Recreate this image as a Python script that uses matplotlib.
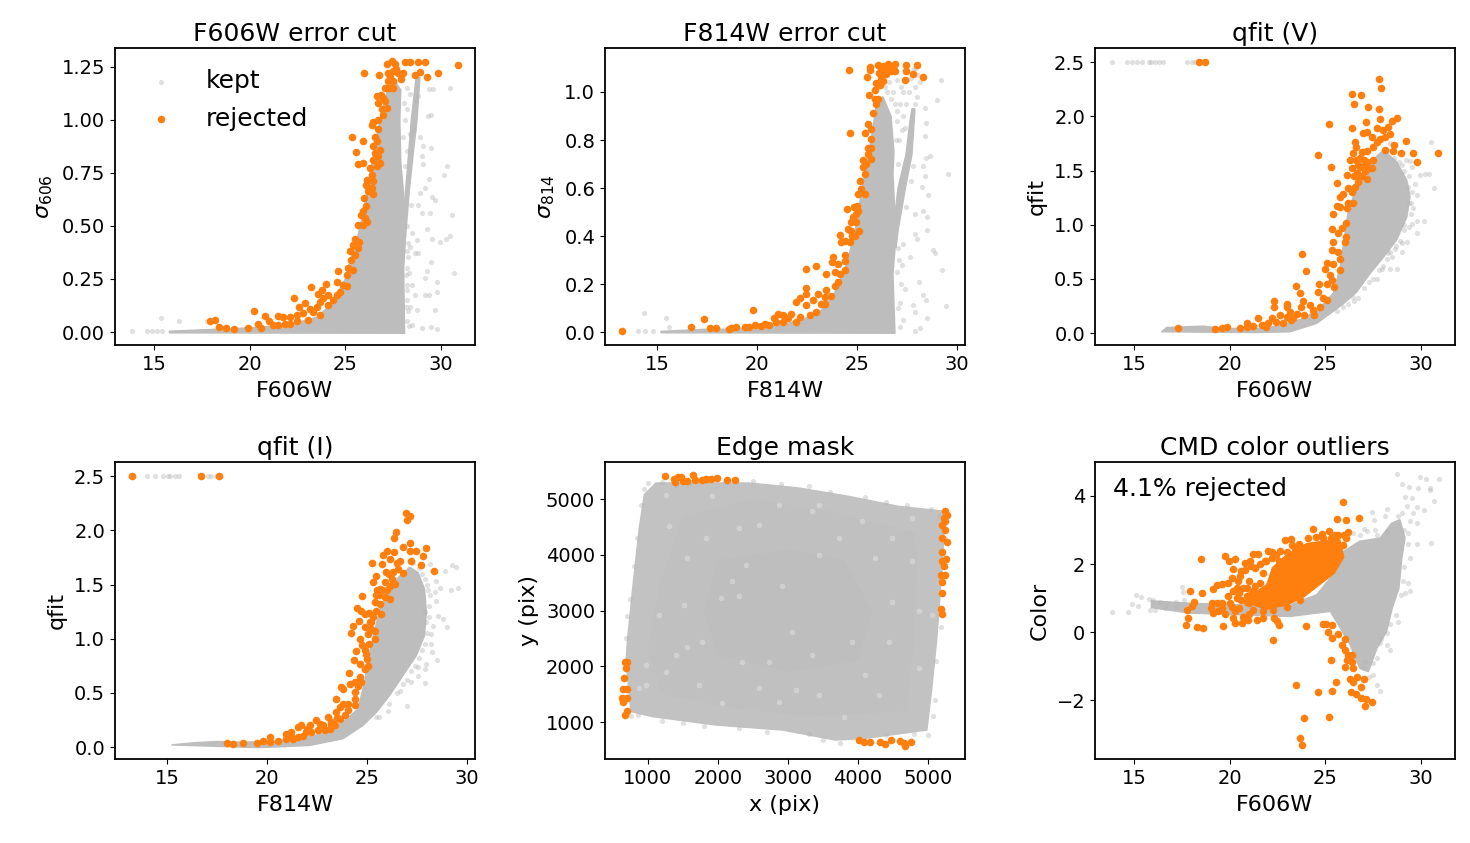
import numpy as np
from matplotlib import pyplot as plt

# dense part of each kept population, as outlines in data units
sig606_core = [(15.8,.004),(18,.012),(20,.02),(21.5,.03),(22.5,.045),(23.5,.07),(24,.11),(24.5,.17),(25,.25),(25.3,.35),
               (25.6,.43),(26,.59),(26.3,.75),(26.6,.9),(26.9,1.03),(27.2,1.14),(27.6,1.18),(27.9,1.14),(27.85,1.0),(27.9,.8),
               (28.05,.65),(28.15,.45),(28.05,.3),(28.1,-.006),(15.8,-.004)]
sig606_strip = [(27.95,.45),(28.2,.72),(28.45,1.0),(28.7,1.2),(28.9,1.2),(28.75,1.0),(28.55,.84),(28.35,.67),(28.15,.45)]
sig814_core = [(15.2,.003),(17.5,.012),(19,.012),(20.5,.02),(21.5,.035),(22.5,.06),(23.2,.09),(23.8,.15),(24.3,.24),(24.6,.32),
               (24.9,.42),(25.1,.52),(25.3,.62),(25.6,.75),(25.8,.85),(26,.97),(26.3,.98),(26.7,.9),(26.85,.75),(26.8,.66),
               (26.95,.4),(26.8,.24),(26.9,-.005),(15.2,-.003)]
sig814_strip = [(26.8,.42),(27.05,.6),(27.45,.74),(27.65,.88),(27.75,.93),(27.9,.93),(27.75,.74),(27.4,.59),(27.05,.42),(26.95,.35)]
qfitv_core = [(16.43,.012),(21.4,.005),(23.15,.012),(24.55,.09),(25.25,.18),(25.94,.27),(26.64,.38),(27.34,.55),(28.04,.7),
              (28.73,.86),(29.26,1.07),(29.43,1.26),(29.26,1.41),(28.73,1.58),(28.04,1.69),(27.2,1.55),(26.7,1.38),(26.2,1.13),
              (26.0,.89),(25.77,.61),(25.42,.37),(24.9,.27),(24.02,.15),(23.15,.09),(21.75,.043),(19.66,.043),(18.6,.065),
              (17.57,.058),(16.7,.052)]
qfiti_core = [(15.22,.02),(19.63,-.005),(22.13,.015),(23.8,.077),(24.8,.2),(25.47,.32),(26.13,.476),(26.8,.66),(27.47,.845),
              (27.88,1.03),(27.97,1.244),(27.88,1.459),(27.55,1.612),(27.13,1.66),(26.2,1.505),(25.7,1.305),(25.4,1.09),
              (25.1,.845),(24.88,.6),(24.55,.353),(23.8,.23),(23,.138),(21.3,.06),(18.8,.046),(17.47,.052),(16.3,.04)]
edge_outer = [(1114,5289),(948,5079),(876,4480),(782,3402),(710,2503),(686,2084),(758,1186),(1066,1096),(1969,946),(2919,856),
              (3679,676),(4106,706),(4985,856),(5056,1605),(5128,2503),(5199,3702),(5247,4780),(4581,4870),(3869,5049),
              (3156,5199),(2444,5289),(1731,5289)]
edge_inner = [(1500,4700),(1150,3400),(1000,2300),(1200,1500),(2200,1250),(3300,1100),(4700,1200),(4800,2500),(4850,3800),
              (4800,4400),(3700,4750),(2500,5000)]
edge_center = [(2000,3900),(1800,3000),(2000,2200),(3000,1900),(4000,2100),(4200,3000),(3800,3900),(3000,4100)]
cmd_core = [(15.9,.92),(17.9,.85),(20.5,.8),(23.15,.8),(24.55,1.1),(25.68,1.88),(25.94,2.37),(26.8,2.67),(27.86,2.76),(28.47,3.2),
            (28.9,3.3),(29.17,2.76),(29,2.18),(28.85,1.29),(28.5,.71),(28.2,.02),(27.7,-.47),(27.25,-1.16),(26.8,-1.06),
            (26.29,-.37),(25.68,.22),(25.25,.61),(23.15,.46),(20.5,.51),(17.9,.56),(15.9,.72)]
cmd_rej_core = [(20.9,.85),(21.2,1.15),(21.9,1.4),(22.2,1.9),(22.98,2.3),(24.02,2.62),(25.77,2.76),(26.0,2.2),(25.5,1.72),
                (24.72,1.38),(23.85,1.0),(22.98,.78),(21.9,.65)]

# isolated kept stars
sig606_kept = [(13.85,.005),(14.63,.005),(14.9,.005),(15.15,.005),(15.4,.005),(15.38,.064),(16.3,.05),(17.75,.05),(30.48,1.15),
               (29.4,1.145),(29.6,1.145),(30.3,.78),(30.18,.74),(29.35,.72),(29.47,.866),(29.3,1.015),(29.47,1.02),(29,.827),
               (29.08,.79),(29.52,.635),(29.7,.62),(29.17,.68),(28.9,.654),(28.8,.6),(29.43,.56),(29.26,.484),(30.57,.552),
               (30.45,.45),(30.27,.44),(29.96,.426),(29.52,.437),(28.82,.37),(30.7,.28),(29.5,.33),(29.26,.285),(29.17,.253),
               (29.8,.237),(29.78,.19),(29.4,.175),(29.17,.175),(29.7,.104),(29.5,.025),(29.78,.013),(29,.017),(28.65,.175),
               (28.38,.12),(28.73,.104),(28.47,.033),(28.2,.22),(28.47,.22),(28.3,.355),(28.65,.37),(28.47,.465),(28.73,.434),
               (29,.56),(28.38,.93),(28.9,.92),(29.08,.874),(28.7,1.087),(28.82,1.11),(28.3,.1),(28.2,.3),(28.35,.03),(28.25,.5),
               (28.25,.15),(28.3,.42),(28.15,.27),(28.45,.6),(28.2,.05),(28.25,.2),(28.35,.28),(28.2,.38),(28.4,.4),(28.15,.12),
               (27.95,1.2),(28.2,1.15),(28.4,1.12),(28.1,1.0),(28.2,.85),(28.6,.95),(28.05,1.08),(28.25,1.05),(28.0,.92),(28.1,.78)]
sig814_kept = [(14.05,.004),(14.4,.004),(14.8,.004),(14.35,.08),(15.43,.057),(15.58,.02),(29.2,1.05),(29,.965),(29.55,.658),(29.25,.26),
               (29.43,.11),(28.55,.57),(28.8,.343),(28.88,.33),(28.5,.478),(28.5,.426),(28.3,.506),(27.88,.409),(28,.386),(28.1,.209),
               (28.3,.156),(28.47,.133),(28.5,.057),(28.13,.015),(27.88,.004),(27.8,.112),(27.88,.084),(27.38,.18),(27.63,.312),(27.3,.368),
               (28.38,.935),(28.47,.87),(28.38,.817),(28.47,.727),(28.63,.734),(28.3,.693),(28.38,.651),(28.27,.605),(27.72,.63),(27.8,.693),
               (27.47,.52),(27.88,.49),(27.1,.3),(27.2,.2),(27.05,.1),(27.3,.05),(27.15,.02),(27.0,.25),(27.25,.28),(27.05,.35),(27.15,.12),
               (26.8,1.0),(27.0,1.05),(27.3,1.0),(27.5,1.05),(26.5,1.0),(26.6,1.04),(27.0,.92),(27.25,.84),(27.1,.8),(27.3,.9),(26.4,1.02),
               (27.6,1.0),(27.7,1.06),(27.9,1.02),(27.8,1.09),(28.05,1.07),(28.15,1.04),(27.95,1.1),(27.45,.95),(27.15,.95),(26.95,.8),
               (26.9,.95),(26.7,.97),(27.05,.7),(27.0,.88),(27.2,1.02),(27.4,.85),(28.0,.98),(27.9,.95)]
qfitv_kept = [(13.85,2.5),(14.63,2.5),(14.9,2.5),(15.15,2.5),(15.4,2.5),(15.75,2.5),(15.9,2.5),(16.1,2.5),(16.3,2.5),(16.5,2.5),
              (17.75,2.5),(18.0,2.5),(18.2,2.5),(30.53,1.76),(30.4,1.47),(30.2,1.47),(29.96,1.46),(30.7,1.34),(30.18,1.03),
              (29.8,1.035),(29.8,.92),(29.52,1.01),(29.26,.84),(29,.835),(29,.745),(28.73,.59),(28.38,.59),(27.95,.59),(27.69,.5),
              (28.3,.735),(29.52,1.53),(29.7,1.58),(29.7,1.38),(29.78,1.27),(29.43,1.59),(29.2,1.6),(28.38,1.75),(28.47,.7),
              (28.65,.78),(26.73,.32),(26.47,.335),(25.94,.243),(29.1,.95),(29.4,1.2),(29.6,1.15),(29.3,1.35),(26.5,.3),(27,.42),
              (27.5,.5),(28,.62),(28.4,.75),(28.9,.85),(29.1,1.0),(29.5,1.1),(29.55,1.3),(29.4,1.45),(29,1.55),(28.6,1.62),(28.3,1.68),
              (27.3,.47),(27.8,.58),(28.2,.68),(28.7,.8),(29.35,.98),(29.5,1.2),(29.1,1.5),(28.85,1.58),(26.2,.27),(25.6,.2)]
qfiti_kept = [(14.02,2.5),(14.4,2.5),(14.8,2.5),(15.05,2.5),(15.17,2.5),(15.42,2.5),(15.6,2.5),(17.05,2.5),(17.22,2.5),(17.43,2.5),
              (29.27,1.68),(29.47,1.665),(28.92,1.625),(28.17,1.69),(28.43,1.535),(28.67,1.468),(29.55,1.468),(29.22,1.45),
              (28.38,1.428),(28.47,1.35),(28.55,1.213),(28.8,1.182),(29,1.112),(28.3,1.12),(28.22,1.044),(28.22,.952),(28.27,.875),
              (28.5,.808),(27.97,.768),(27.55,.743),(27.88,.722),(27.55,.66),(27.22,.6),(27.88,.593),(27.02,.375),(26.05,.329),
              (25.47,.276),(26.63,.522),(27.9,.95),(28.1,1.3),(28.0,1.5),(25.6,.28),(26.1,.4),(26.5,.5),(27,.62),(27.4,.75),(27.75,.9),
              (28,1.05),(28.1,1.2),(28.15,1.4),(27.9,1.55),(27.6,1.65),(27.3,1.7),(27.9,1.25),(26.8,.58),(27.2,.7),(27.6,.82),
              (27.95,1.15),(28.05,1.45),(27.75,1.6)]
edge_kept = [(950,5180),(1000,5280),(1200,5310),(900,4900),(840,4300),(800,3800),(740,3200),(700,2900),(690,2500),(760,1100),(860,1130),
             (1200,1020),(1500,980),(1800,930),(2300,890),(2700,820),(3300,780),(3500,680),(3750,620),(4000,660),(4400,770),(4800,790),
             (5000,760),(5070,1100),(5100,1400),(5120,2100),(5180,2700),(5190,3300),(5250,4300),(5170,4700),(5050,4820),(4700,4900),
             (4400,4950),(4100,5040),(3600,5120),(3300,5230),(2900,5270),(2500,5330),(2100,5310),(1600,5300),(1400,5260)]
cmd_kept = [(13.85,.59),(14.69,.59),(14.9,.82),(15.12,1.1),(15.38,1.02),(15.2,.77),(15.8,.97),(16,.95),(16.34,.9),(15.82,.66),
            (16.08,.66),(16.7,.85),(17.2,.9),(17.48,1.34),(17.53,1.18),(28.77,4.63),(29,4.35),(29.96,4.56),(30.27,4.48),(30.92,4.48),
            (29.4,4.26),(29.82,4.24),(30.45,4.24),(30.48,4.16),(30.7,3.84),(29.14,3.97),(29.55,3.94),(29.26,3.7),(29.78,3.68),
            (30.18,3.58),(29.6,3.5),(28.2,3.6),(27.44,3.53),(27.53,3.3),(27,3.04),(28.12,3.4),(29.43,3.25),(29.8,3.2),(30.53,2.62),
            (29.78,2.59),(29.43,2.18),(29.34,1.44),(29.43,1.2),(29.17,1.15),(28.82,.31),(28.2,-.03),(27.86,-.32),(28.2,-.37),
            (28.38,-.52),(27.69,-.76),(27.51,-1.27),(27.69,-1.55),(27.86,-1.73),(27.16,2.96),(27.69,2.86),(26.47,2.91),(26.8,2.86),
            (26.99,-1.06),(27.08,-.86),(16.6,.7),(17.2,.75),(17.6,.95),(29.3,2.6),(29.1,3.0),(29.0,3.5),(29.1,1.9),(29.05,1.5),(28.95,1.1),
            (28.7,.5),(28.4,.25),(27.9,-.2),(27.5,-.9),(27.3,-1.3),(27.05,-1.4),(28.2,2.95),(27.6,3.0),(28.8,3.4),(29.3,2.9),(26.2,2.75)]

# thin spots in the edge panel's star field
edge_gaps = [(1257,5079),(1921,5049),(2872,4900),(2587,4540),(1565,3941),(1304,4510),(3347,4780),(4487,4300),(4772,4660),(3727,4300),(2207,3522),
             (2919,3432),(2397,3821),(4487,3162),(4867,2983),(2040,3222),(1518,3102),(1565,2354),(972,2024),(1257,1905),(3109,1575),(3798,1096),
             (4107,1845),(4297,1485),(2064,1335),(2587,1605),(3442,1485),(2729,2084),(2349,2084),(1732,1665),(972,1665),(1162,2923),(4249,3941),
             (5057,2923),(4867,1964),(3917,2444),(4439,2444),(3347,2204),(3062,2623),(2302,3252),(877,1605),(3442,4000),(1827,4300),(2302,4480),
             (4059,4600),(4772,3881),(3442,4900),(2872,1365),(1399,2204),(1779,2444)]

# rejected stars
sig606_rej = [(26,1.22),(26.78,1.208),(27.2,1.26),(27.43,1.275),(27.6,1.26),(28.12,1.27),(28.38,1.27),(28.82,1.27),(29.17,1.27),
              (30.9,1.258),(29.82,1.22),(29.26,1.2),(28.9,1.225),(28.65,1.212),(28.04,1.22),(27.77,1.22),(27.5,1.228),(27.25,1.22),
              (27.5,1.18),(27.48,1.15),(27.25,1.18),(27.08,1.15),(26.85,1.118),(26.64,1.11),(27.08,1.087),(26.73,1.08),(27.16,1.055),
              (26.99,1.024),(26.47,.99),(26.73,1.0),(26.38,.976),(26.73,.956),(25.33,.918),(25.94,.9),(26.55,.92),(26.64,.898),
              (26.47,.874),(26.82,.858),(25.54,.848),(26.55,.843),(26.73,.827),(26.47,.81),(26.82,.795),(25.68,.792),(25.94,.795),
              (26.29,.772),(26.64,.78),(26.38,.74),(26.11,.717),(26.47,.71),(26.08,.69),(26.38,.678),(26.2,.662),(26.47,.65),(26,.63),
              (26.08,.594),(25.94,.568),(25.8,.552),(26.03,.536),(26.11,.52),(25.68,.505),(25.94,.505),(25.5,.44),(25.73,.426),
              (25.42,.41),(25.68,.395),(25.25,.38),(25.5,.363),(25.28,.34),(25.16,.3),(25.42,.292),(24.63,.288),(25.07,.27),(24.55,.237),
              (24.9,.222),(25.07,.217),(23.2,.21),(23.99,.225),(23.76,.2),(23.59,.18),(24.72,.19),(24.55,.175),(24.1,.175),(23.85,.16),
              (23.67,.143),(22.33,.159),(24.37,.15),(24.1,.127),(23.5,.12),(22.9,.135),(22.6,.116),(23.15,.11),(23.33,.096),(23.67,.08),
              (22.8,.088),(22.45,.08),(22.1,.072),(21.75,.07),(21.5,.075),(20.8,.075),(20.24,.097),(21,.05),(21.2,.033),(21.5,.033),
              (21.85,.04),(22.1,.04),(22.45,.05),(23.06,.057),(20.45,.038),(20.6,.017),(19.9,.017),(19.2,.012),(18.77,.017),(18.4,.022),
              (18.2,.055),(17.9,.05),(27.35,1.2),(27.65,1.24),(27.9,1.19),(27.3,1.15),(26.95,1.1),(26.9,1.05)]
sig814_rej = [(13.25,.004),(16.7,.02),(17.35,.053),(17.67,.015),(17.95,.015),(18.6,.011),(18.72,.015),(18.97,.02),(19.38,.02),(19.6,.02),
              (19.8,.09),(19.88,.03),(20.18,.027),(20.42,.033),(20.58,.03),(20.83,.057),(21.05,.077),(20.97,.043),(21.3,.07),(21.3,.043),
              (21.55,.057),(21.72,.077),(21.97,.043),(22.13,.064),(21.97,.126),(22.13,.144),(22.47,.185),(22.47,.16),(22.47,.112),(22.8,.135),
              (22.63,.07),(22.97,.084),(23.05,.16),(23.2,.119),(23.38,.147),(23.47,.174),(23.72,.15),(23.38,.119),(22.45,.264),(22.97,.275),
              (23.47,.243),(23.8,.312),(23.75,.292),(23.88,.25),(24.05,.285),(24.38,.32),(24.42,.298),(24.38,.257),(24.13,.243),(24.05,.209),
              (23.88,.19),(24.17,.406),(24.38,.381),(24.63,.375),(24.2,.375),(24.55,.43),(24.72,.457),(24.97,.457),(24.72,.42),(25.1,.423),
              (24.5,.513),(25.0,.524),(25.05,.505),(25.05,.575),(25.22,.596),(25.38,.575),(25.13,.63),(25.38,.658),(25.3,.686),(25.47,.7),
              (25.3,.715),(25.72,.72),(25.55,.74),(25.72,.768),(25.55,.768),(25.72,.803),(25.38,.828),(24.65,.828),(25.72,.845),(25.55,.865),
              (25.8,.914),(25.97,.948),(25.88,.969),(26.05,.969),(25.6,.986),(25.88,1.01),(26.13,1.03),(26.3,1.045),(25.97,1.038),(25.5,1.062),
              (25.67,1.093),(24.6,1.093),(25.63,1.103),(26.05,1.114),(26.3,1.107),(26.55,1.117),(26.88,1.117),(26.72,1.086),(26.47,1.073),
              (26.88,1.086),(27.38,1.052),(27.47,1.114),(27.47,1.086),(27.8,1.073),(28,1.114),(28.3,1.064),(26.22,1.06),(26.2,1.09),(26.5,1.09),
              (26.35,1.08),(26.65,1.1),(26.1,1.08),(26.75,1.11),(24.8,.48),(24.85,.52),(24.95,.49),(24.75,.4),(24.9,.4)]
qfitv_rej = [(18.39,2.5),(18.68,2.5),(17.3,.043),(19.22,.034),(19.57,.043),(19.87,.052),(20.53,.043),(20.88,.095),(20.9,.06),(21.23,.065),
             (21.5,.144),(21.67,.074),(22.02,.089),(22.19,.135),(22.33,.298),(22.33,.243),(22.63,.166),(22.97,.273),(22.97,.24),(23.15,.197),
             (22.97,.15),(23.5,.18),(23.33,.135),(23.85,.298),(23.71,.243),(23.48,.436),(23.67,.366),(23.8,.734),(24,.571),(24.2,.258),(24.37,.212),
             (24.72,.243),(24.63,.375),(24.68,.449),(25.1,.449),(24.9,.32),(25.07,.304),(25.47,.427),(25.24,.535),(25.33,.489),(24.98,.587),(25.1,.651),
             (25.42,.642),(25.77,.58),(25.68,.75),(25.77,.688),(25.33,.771),(25.42,.842),(26.03,.842),(26.08,.889),(25.33,.957),(25.86,.966),(25.68,.92),
             (26.08,1.02),(25.42,1.095),(25.59,1.17),(25.77,1.166),(26.15,1.15),(26.47,1.197),(26.2,1.197),(25.77,1.258),(25.94,1.283),(25.59,1.387),
             (26.2,1.335),(26.55,1.35),(26.73,1.397),(25.28,1.535),(24.63,1.64),(26.15,1.458),(26.38,1.52),(26.64,1.473),(26.82,1.535),(27.08,1.5),
             (27.43,1.52),(26.47,1.658),(26.82,1.612),(27.16,1.58),(27.51,1.597),(26.9,1.673),(27.16,1.683),(26.55,1.766),(26.6,1.714),(27.51,1.72),
             (27.69,1.766),(28.12,1.689),(28.6,1.735),(28.56,1.683),(28.98,1.658),(29.2,1.77),(29.56,1.664),(29.78,1.58),(30.9,1.658),(25.2,1.926),
             (26.38,1.889),(26.99,1.843),(27.16,1.858),(27.13,1.945),(27.43,1.81),(27.86,1.794),(28.12,1.81),(27.69,1.895),(27.86,1.972),(28.04,1.87),
             (28.3,1.9),(28.47,1.953),(28.73,1.988),(28.38,1.84),(27.83,2.065),(27.22,2.09),(26.52,2.11),(26.41,2.21),(26.88,2.2),(27.93,2.26),(27.83,2.34),
             (26.5,1.45),(26.9,1.45),(27.2,1.42),(26.7,1.55),(26.4,1.3),(27.0,1.6),(26.3,1.6),(26.6,1.6),(26.95,1.53),(27.3,1.52),(26.75,1.45),
             (21.9,.06),(22.4,.1),(22.8,.09),(23.2,.12),(23.9,.17),(24.4,.17)]
qfiti_rej = [(13.25,2.5),(16.72,2.5),(17.6,2.5),(18,.04),(18.3,.03),(18.8,.04),(19.52,.04),(19.8,.055),(20.17,.092),(20.17,.05),(20.55,.06),(20.97,.123),
             (20.97,.077),(21.22,.138),(21.3,.077),(21.55,.092),(21.55,.184),(21.72,.206),(21.97,.138),(22.13,.2),(22.22,.138),(22.47,.246),(22.63,.215),
             (22.55,.154),(22.88,.154),(23.05,.276),(23.22,.23),(23.13,.169),(23.47,.322),(23.63,.261),(23.63,.369),(24.05,.338),(23.88,.292),(23.8,.4),
             (24.05,.4),(24.38,.384),(24.38,.445),(23.47,.445),(23.8,.537),(23.72,.553),(24.1,.685),(24.13,.584),(24.38,.6),(24.42,.513),(24.67,.645),(24.72,.6),
             (24.55,.568),(24.63,.768),(24.88,.722),(25.05,.752),(24.35,.805),(25,.814),(24.97,.86),(24.47,.888),(24.77,.943),(24.67,.998),(24.22,1.053),(24.3,1.12),
             (24.6,1.167),(24.88,1.105),(25.22,1.152),(25.38,.998),(25.38,1.075),(25.05,1.044),(25.2,1.09),(24.75,1.397),(24.48,1.28),(24.72,1.26),(24.88,1.228),
             (25.1,1.238),(25.38,1.336),(25.47,1.26),(25.72,1.228),(25.63,1.32),(25.88,1.382),(26.13,1.367),(25.3,1.52),(25.47,1.582),(25.63,1.459),(25.88,1.52),
             (26.13,1.49),(26.38,1.505),(25.97,1.612),(26.3,1.612),(26.8,1.606),(26.55,1.643),(25.25,1.698),(25.77,1.689),(25.8,1.772),(26,1.806),(26.35,1.797),
             (26.13,1.735),(26.8,1.843),(26.63,1.72),(27.13,1.883),(27.13,1.812),(27.47,1.812),(27.97,1.837),(27.8,1.76),(27.22,1.717),(27.7,1.68),(28.35,1.625),
             (26.35,1.929),(26.47,1.987),(26.97,2.16),(27.13,2.128),(27,2.095),(25.1,.95),(25.3,1.2),(25.6,1.4),(26.0,1.45),(26.25,1.55),(25.5,1.45),(21.0,.1),(22.0,.17),(23.4,.2),
             (24.9,.9),(25.15,1.15),(25.45,1.4),(25.75,1.45),(26.5,1.7),(26.1,1.6),(23.2,.2),(23.5,.27),(22.8,.2),(21.2,.1),(21.8,.1)]
edge_rej = [(1247,5415),(1375,5367),(1390,5307),(1423,5391),(1470,5391),(1494,5331),(1551,5319),(1637,5427),(1675,5337),(1779,5337),(1836,5367),
            (1898,5367),(1993,5379),(2135,5343),(2245,5343),(5247,4780),(5270,4720),(5223,4660),(5247,4600),(5199,4540),(5247,4450),(5199,4300),(5270,4229),
            (5199,4049),(5256,3929),(5199,3881),(5223,3791),(5190,3642),(5247,3642),(5199,3510),(5199,3312),(5185,3031),(5199,2935),(677,2084),(696,2072),
            (686,1976),(653,1797),(649,1593),(706,1593),(706,1437),(629,1425),(649,1353),(696,1198),(677,1126),(4021,677),(4083,635),(4168,635),(4320,635),
            (4382,599),(4472,677),(4605,665),(4653,617),(4676,575),(4757,635)]
cmd_rej = [(25.94,3.82),(25.63,3.32),(26.1,3.29),(26.78,3.35),(24.37,3.03),(24.8,2.89),(25.2,2.96),(24.1,2.76),(26.2,2.93),(25.68,2.86),(22.89,2.69),(23.18,2.72),
           (23.24,2.55),(22.02,2.39),(21.23,2.29),(21.46,2.3),(22.63,2.37),(18.51,2.15),(19.75,2.22),(19.96,2.08),(20.27,2.15),(20.8,2.03),(21.06,2.1),(21.84,2.08),
           (22.19,2.18),(20.18,1.85),(20.8,1.83),(21.32,1.88),(20.53,1.64),(21.75,1.74),(21.58,1.44),(20.45,1.49),(19.57,1.42),(19.31,1.39),(19.92,1.44),(19.1,1.27),
           (20.36,1.29),(20.88,1.29),(22.02,1.34),(20.18,1.2),(17.93,1.22),(18.56,1.15),(19.92,1.05),(20.36,1),(21.06,1.1),(21.58,1.15),(18.12,.9),(19.05,.85),(19.31,.85),
           (19.57,.85),(20,.85),(20.88,.9),(21.4,.9),(22.1,.9),(23.67,.95),(18,.78),(17.77,.66),(19.1,.56),(19.38,.61),(19.75,.53),(20.27,.61),(21.23,.66),(21.75,.61),
           (22.28,.66),(22.98,.75),(17.83,.41),(17.72,.22),(18.3,.14),(18.61,.12),(19.66,.18),(20.18,.41),(20.27,.26),(20.62,.26),(20.97,.36),(21.4,.36),(21.75,.43),
           (22.33,.41),(22.45,.34),(22.59,.22),(22.28,-.24),(24,.18),(24.9,.24),(25.03,.25),(25.37,.22),(25.16,.02),(25.33,-.18),(25.68,-.05),(26.03,-.21),(25.86,-.37),
           (26.03,-.52),(26.2,-.67),(26.38,-.67),(26.12,-.81),(26.38,-.86),(26.03,-1.01),(26.47,-1.06),(25.28,-.82),(26.29,-1.37),(26.64,-1.3),(26.47,-1.45),(27,-1.38),
           (26.85,-1.6),(25.58,-1.47),(25.33,-1.71),(24.63,-1.76),(23.48,-1.56),(26.33,-1.76),(26.59,-1.8),(26.85,-1.94),(27.13,-1.97),(27.43,-2.04),(27.09,-2.15),
           (25.2,-2.5),(23.87,-2.53),(23.69,-3.09),(23.8,-3.32),(21.2,1.2),(20.9,1.05),(21.4,1.0),(21.8,1.1),(22.0,1.2),(21.9,.85),(21.0,.85),(20.6,.95),(22.6,2.1),
           (23.0,2.35),(23.6,2.6),(24.5,2.8),(25.3,2.75),(25.9,2.55),(19.0,.72),(19.6,.72),(20.1,.75),(20.5,.7),(20.7,.45),(21.0,.52),(20.1,1.6),(20.6,1.8),(21.1,1.95),
           (21.6,2.0),(22.2,2.35),(22.4,2.25),(23.4,2.45),(24.9,2.75),(25.5,2.85),(25.95,2.85),(26.1,2.75),(20.5,1.15),(20.7,1.3),(21.3,1.35),(21.0,1.5),(21.9,2.1)]

sig606_ticks = [0, .25, .5, .75, 1, 1.25]

panels = [
    ("F606W error cut", "F606W", r"$\sigma_{606}$", (12.95, 31.78), (-.0613, 1.337), [sig606_core, sig606_strip], sig606_kept, sig606_rej),
    ("F814W error cut", "F814W", r"$\sigma_{814}$", (12.4, 30.4), (-.054, 1.183), [sig814_core, sig814_strip], sig814_kept, sig814_rej),
    ("qfit (V)", "F606W", "qfit", (12.95, 31.78), (-.11, 2.63), [qfitv_core], qfitv_kept, qfitv_rej),
    ("qfit (I)", "F814W", "qfit", (12.4, 30.4), (-.11, 2.63), [qfiti_core], qfiti_kept, qfiti_rej),
    ("Edge mask", "x (pix)", "y (pix)", (386, 5530), (336, 5664), [edge_outer], edge_kept, edge_rej),
    ("CMD color outliers", "F606W", "Color", (12.95, 31.78), (-3.72, 4.99), [cmd_core], cmd_kept, cmd_rej),
]

kept_color = '#bdbdbd'

fig, axes = plt.subplots(2, 3, figsize=(14.7, 8.43))
fig.subplots_adjust(left=.0782, right=.9898, top=.943, bottom=.0996, wspace=.361, hspace=.394)

for ax, (title, xlabel, ylabel, xlim, ylim, outlines, kept, rej) in zip(axes.flat, panels):
    for outline in outlines:
        ox, oy = np.array(outline).T
        ax.fill(ox, oy, color=kept_color, lw=1, zorder=1)
    kx, ky = np.array(kept).T
    ax.scatter(kx, ky, s=14, color='0.7', alpha=.4, lw=0, zorder=2, label="kept")
    rx, ry = np.array(rej).T
    ax.scatter(rx, ry, s=30, color='C1', lw=0, zorder=3, label="rejected")
    ax.set_xlim(xlim)
    ax.set_ylim(ylim)
    ax.set_title(title, fontsize=18, pad=5)
    ax.set_xlabel(xlabel, fontsize=16, labelpad=5.5)
    ax.set_ylabel(ylabel, fontsize=16, labelpad=5)
    ax.tick_params(labelsize=14)
    for side in ax.spines.values():
        side.set_linewidth(1.3)

axes[0, 0].set_yticks(sig606_ticks, ["0.00", "0.25", "0.50", "0.75", "1.00", "1.25"])

# the edge panel's field thins out towards its rim
edge_ax = axes[1, 1]
edge_ax.patches[0].set_color('#c2c2c2')
ix, iy = np.array(edge_inner).T
edge_ax.fill(ix, iy, color='#c0c0c0', lw=0, zorder=1.2)
ix, iy = np.array(edge_center).T
edge_ax.fill(ix, iy, color='#bebebe', lw=0, zorder=1.4)
gx, gy = np.array(edge_gaps).T
edge_ax.scatter(gx, gy, s=16, color='white', alpha=.28, lw=0, zorder=1.6)

ox, oy = np.array(cmd_rej_core).T
axes[1, 2].fill(ox, oy, color='C1', lw=0, zorder=3)
axes[1, 2].text(.05, .91, "4.1% rejected", transform=axes[1, 2].transAxes, fontsize=18, va='center')

axes[0, 0].legend(loc='upper left', fontsize=18, frameon=False, borderaxespad=.45, handletextpad=.8, labelspacing=.55)

fig.savefig("out.png", dpi=100)
